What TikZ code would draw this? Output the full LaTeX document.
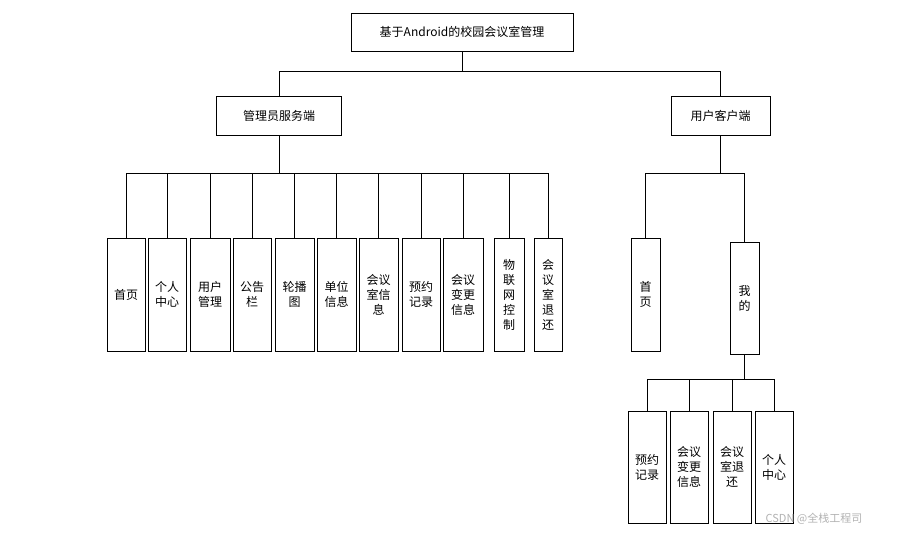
\documentclass[tikz,border=0pt]{standalone}
\usepackage{fontspec}
\setmainfont{Noto Sans CJK SC}
\begin{document}
\begin{tikzpicture}[x=1pt,y=-1pt,
  bx/.style={draw,thick,fill=white,inner sep=0pt,font=\fontsize{12}{15}\selectfont,align=center},
  ln/.style={thick}]
\useasboundingbox (0,0) rectangle (897,535);
\node[bx,minimum width=222,minimum height=38] (root) at (462,32) {基于Android的校园会议室管理};
\node[bx,minimum width=125,minimum height=39] (adm) at (279,115.5) {管理员服务端};
\node[bx,minimum width=99,minimum height=39] (usr) at (720.5,115.5) {用户客户端};
\coordinate (r1) at (462,71);
\draw[ln] (root.south) -- (r1);
\draw[ln] (adm.north) -- (279,71) -- (720.5,71) -- (usr.north);
\def\adminy{294.5}
\foreach \n/\x/\w/\t in {a1/126/38/首页, a2/167/38/个人\\中心, a3/210/40/用户\\管理, a4/252/38/公告\\栏, a5/294.5/39/轮播\\图, a6/336.5/39/单位\\信息, a7/378.5/39/会议\\室信\\息, a8/421/38/预约\\记录, a9/463/40/会议\\变更\\信息, a10/509/30/物\\联\\网\\控\\制, a11/548/28/会\\议\\室\\退\\还}{
  \node[bx,minimum width=\w,minimum height=113] (\n) at (\x,\adminy) {\t};
  \draw[ln] (\n.north) -- (\x,173);
}
\draw[ln] (adm.south) -- (279,173);
\draw[ln] (126,173) -- (548,173);
\node[bx,minimum width=29,minimum height=113] (u1) at (645.5,294.5) {首\\页};
\node[bx,minimum width=29,minimum height=112] (u2) at (744.5,298) {我\\的};
\draw[ln] (usr.south) -- (720.5,173);
\draw[ln] (u1.north) -- (645.5,173) -- (744.5,173) -- (u2.north);
\draw[ln] (u2.south) -- (744.5,379);
\draw[ln] (647,379) -- (774,379);
\foreach \n/\x/\t in {m1/647/预约\\记录, m2/689/会议\\变更\\信息, m3/732/会议\\室退\\还, m4/774/个人\\中心}{
  \node[bx,minimum width=38,minimum height=112] (\n) at (\x,467) {\t};
  \draw[ln] (\n.north) -- (\x,379);
}
\node[text=gray!60,font=\fontsize{11}{13}\selectfont] (wm) at (814,519) {CSDN @全栈工程司};
\end{tikzpicture}
\end{document}
